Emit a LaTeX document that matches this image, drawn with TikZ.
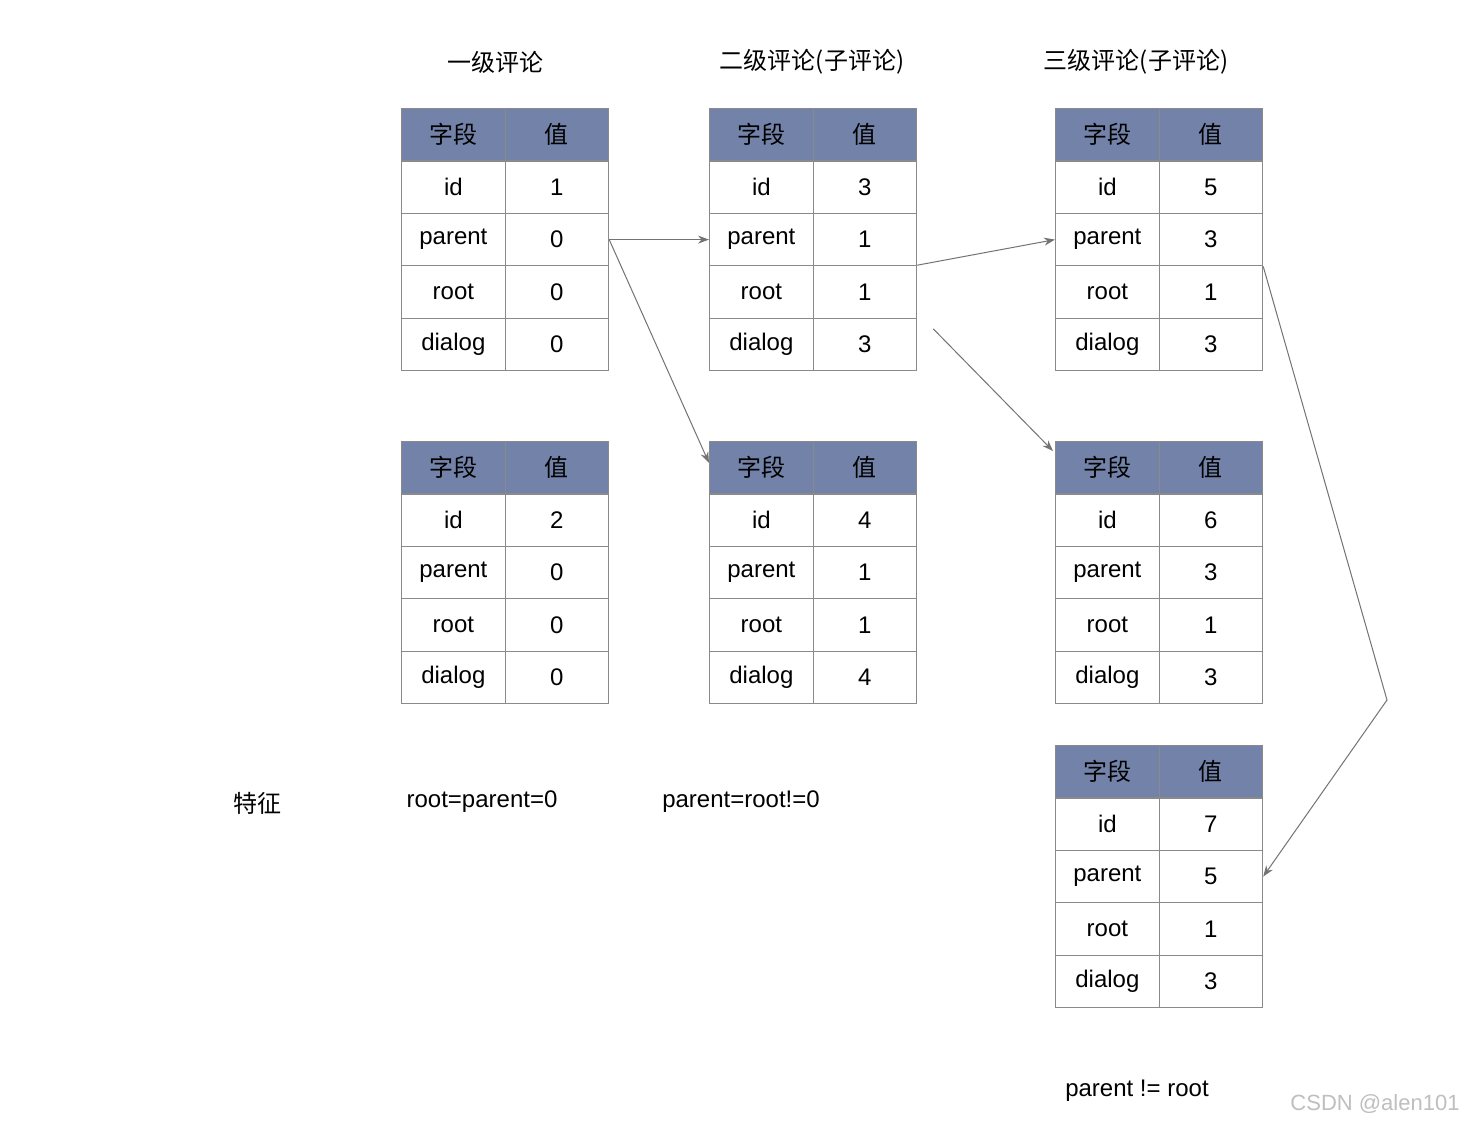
\documentclass[tikz,border=0pt]{standalone}
\usepackage{fontspec}
\setmainfont{Liberation Sans}
\newfontfamily\cjk{Noto Sans CJK SC}
\usetikzlibrary{arrows.meta}
\definecolor{hdr}{HTML}{7382A8}
\definecolor{bd}{HTML}{8A8A8A}
\tikzset{
 cell/.style={draw=bd,line width=1.2pt,minimum width=103.5pt,minimum height=52.4pt,inner sep=0pt,font=\fontsize{24}{26}\selectfont,anchor=north west},
 hcell/.style={cell,fill=hdr,font=\cjk\fontsize{24}{26}\selectfont},
 lbl/.style={font=\fontsize{24}{26}\selectfont},
 clbl/.style={font=\cjk\fontsize{24}{26}\selectfont},
 link/.style={draw=gray!90!black,line width=1pt,-{Stealth[length=11pt,width=8pt]}}
}
\newcommand\mytbl[7]{%
 \node[hcell] (#3h1) at (#1,#2) {字段};
 \node[hcell] (#3h2) at (#1+103.5,#2) {值};
 \node[cell] (#3a1) at (#1,#2+52.4) {id}; \node[cell] (#3a2) at (#1+103.5,#2+52.4) {#4};
 \node[cell] (#3b1) at (#1,#2+104.8) {parent}; \node[cell] (#3b2) at (#1+103.5,#2+104.8) {#5};
 \node[cell] (#3c1) at (#1,#2+157.2) {root}; \node[cell] (#3c2) at (#1+103.5,#2+157.2) {#6};
 \node[cell] (#3d1) at (#1,#2+209.6) {dialog}; \node[cell] (#3d2) at (#1+103.5,#2+209.6) {#7};
}
\begin{document}
\begin{tikzpicture}[x=1pt,y=-1pt]
\useasboundingbox[fill=white] (0,0) rectangle (1484,1130);
\node[clbl] (t1) at (495,62) {一级评论};
\node[clbl] (t2) at (812,62) {二级评论(子评论)};
\node[clbl] (t3) at (1136,62) {三级评论(子评论)};
\mytbl{401}{108}{A}{1}{0}{0}{0}
\mytbl{709}{108}{B}{3}{1}{1}{3}
\mytbl{1055}{108}{C}{5}{3}{1}{3}
\mytbl{401}{441}{D}{2}{0}{0}{0}
\mytbl{709}{441}{E}{4}{1}{1}{4}
\mytbl{1055}{441}{F}{6}{3}{1}{3}
\mytbl{1055}{745}{G}{7}{5}{1}{3}
\node[clbl] (f) at (257,803) {特征};
\node[lbl] (f1) at (482,802) {root=parent=0};
\node[lbl] (f2) at (741,802) {parent=root!=0};
\node[lbl] (f3) at (1137,1091) {parent != root};
\node[font=\fontsize{22}{24}\selectfont,text=gray!50] (wm) at (1375,1104) {CSDN @alen101};
\coordinate (bend) at (1387,700);
\draw[link] (Ab2.east) -- (Bb1.west);
\draw[link] (Ab2.east) -- ([yshift=-22pt]Eh1.north west);
\draw[link] (Bc2.north east) -- (Cb1.west);
\draw[link] ([xshift=16pt,yshift=-10pt]Bc2.south east) -- ([xshift=-2pt,yshift=-10pt]Fh1.north west);
\draw[link] (Cb2.south east) -- (bend) -- (Gb2.east);
\end{tikzpicture}
\end{document}
